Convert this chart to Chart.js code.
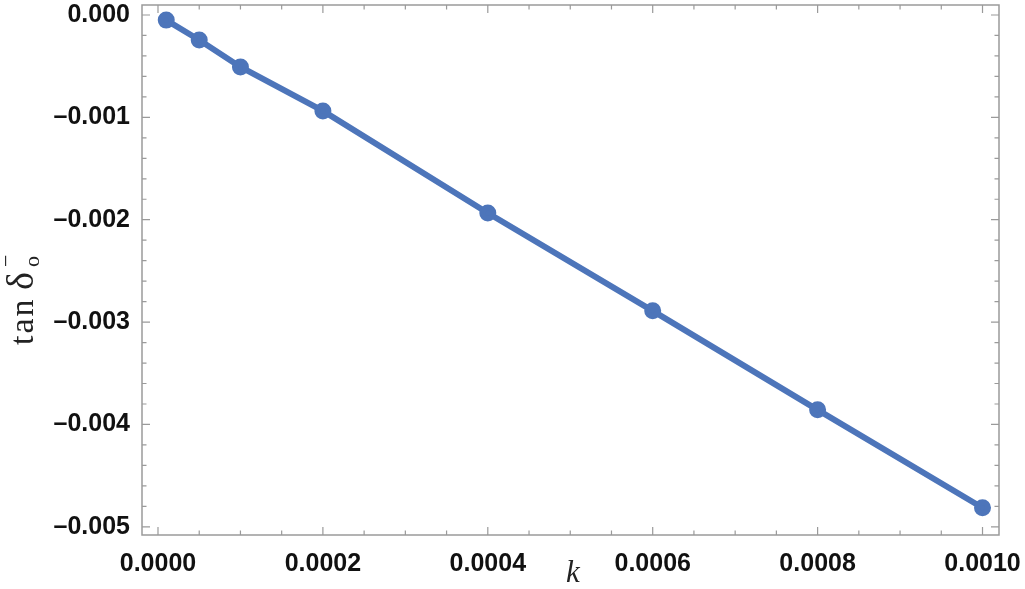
<!DOCTYPE html>
<html>
<head>
<meta charset="utf-8">
<script src="https://cdn.jsdelivr.net/npm/chart.js@4/dist/chart.umd.min.js"></script>
<style>
  html, body { margin: 0; padding: 0; background: #fff; }
  #wrap { width: 1025px; height: 589px; }
</style>
</head>
<body>
<div id="wrap"><canvas id="c"></canvas></div>
<script>
// data
const kValues = [0.00001, 0.00005, 0.0001, 0.0002, 0.0004, 0.0006, 0.0008, 0.001];
const tanDelta = [-0.00005, -0.000244, -0.000508, -0.000937, -0.001934, -0.00289, -0.003857, -0.004814];
const xTicks = [0, 0.0002, 0.0004, 0.0006, 0.0008, 0.001];
const yTicks = [0, -0.001, -0.002, -0.003, -0.004, -0.005];

const blue = '#4d75ba';
const frameColor = '#9a9a9a';

// frame with inward major/minor ticks on all four sides, plus axis titles
const framePlugin = {
  id: 'frame',
  afterDraw(chart) {
    const { ctx, chartArea: a, scales: { x, y } } = chart;
    ctx.save();
    ctx.strokeStyle = frameColor;
    ctx.lineWidth = 1.5;
    ctx.strokeRect(a.left, a.top, a.right - a.left, a.bottom - a.top);

    ctx.lineWidth = 1.2;
    ctx.beginPath();
    for (let i = -1; i <= 21; i++) {
      const v = i * 0.00005;
      if (v < x.min || v > x.max) continue;
      const px = x.getPixelForValue(v);
      const len = i % 4 === 0 ? 8 : 4.5;
      ctx.moveTo(px, a.bottom); ctx.lineTo(px, a.bottom - len);
      ctx.moveTo(px, a.top); ctx.lineTo(px, a.top + len);
    }
    for (let i = -1; i <= 26; i++) {
      const v = -i * 0.0002;
      if (v < y.min || v > y.max) continue;
      const py = y.getPixelForValue(v);
      const len = i % 5 === 0 ? 8 : 4.5;
      ctx.moveTo(a.left, py); ctx.lineTo(a.left + len, py);
      ctx.moveTo(a.right, py); ctx.lineTo(a.right - len, py);
    }
    ctx.stroke();

    // x title
    ctx.fillStyle = '#222';
    ctx.font = 'italic 31px "Liberation Serif", serif';
    ctx.textAlign = 'center';
    ctx.textBaseline = 'alphabetic';
    ctx.fillText('k', 573, 582);

    // y title: tan δ with subscript o and superscript −
    ctx.translate(33, 345);
    ctx.rotate(-Math.PI / 2);
    ctx.textAlign = 'left';
    ctx.font = '34px "Liberation Serif", serif';
    ctx.letterSpacing = '2px';
    ctx.fillText('tan', 0, 0);
    ctx.letterSpacing = '0px';
    ctx.font = '38px "Liberation Serif", serif';
    ctx.fillText('δ', 55, 0);
    ctx.font = '22px "Liberation Serif", serif';
    ctx.fillText('o', 78, 6);
    ctx.fillText('\u2212', 78, -20);
    ctx.restore();
  }
};

new Chart(document.getElementById('c'), {
  type: 'scatter',
  data: {
    datasets: [{
      data: kValues.map((k, i) => ({ x: k, y: tanDelta[i] })),
      showLine: true,
      borderColor: blue,
      backgroundColor: blue,
      borderWidth: 6,
      pointRadius: 5.5,
      pointHoverRadius: 5.5,
      tension: 0
    }]
  },
  options: {
    responsive: true,
    maintainAspectRatio: false,
    animation: false,
    layout: { autoPadding: false, padding: { top: 5, right: 26, left: 0, bottom: 0 } },
    plugins: { legend: { display: false }, tooltip: { enabled: false } },
    scales: {
      x: {
        type: 'linear',
        min: -0.0000194,
        max: 0.00102,
        afterFit: s => { s.height = 54; s.paddingLeft = 0; s.paddingRight = 0; },
        afterBuildTicks: s => { s.ticks = xTicks.map(v => ({ value: v })); },
        grid: { display: false, drawTicks: false },
        border: { display: false },
        ticks: {
          padding: 14,
          color: '#111',
          font: { family: '"Liberation Sans", Arial, sans-serif', size: 25, weight: 'bold' },
          maxRotation: 0,
          callback: v => v.toFixed(4)
        }
      },
      y: {
        type: 'linear',
        min: -0.00508,
        max: 0.0000977,
        afterFit: s => { s.width = 142; s.paddingTop = 0; s.paddingBottom = 0; },
        afterBuildTicks: s => { s.ticks = yTicks.map(v => ({ value: v })); },
        grid: { display: false, drawTicks: false },
        border: { display: false },
        ticks: {
          padding: 12,
          color: '#111',
          font: { family: '"Liberation Sans", Arial, sans-serif', size: 25, weight: 'bold' },
          callback: v => (v < 0 ? '\u2013' : '') + Math.abs(v).toFixed(3)
        }
      }
    }
  },
  plugins: [framePlugin]
});
</script>
</body>
</html>
